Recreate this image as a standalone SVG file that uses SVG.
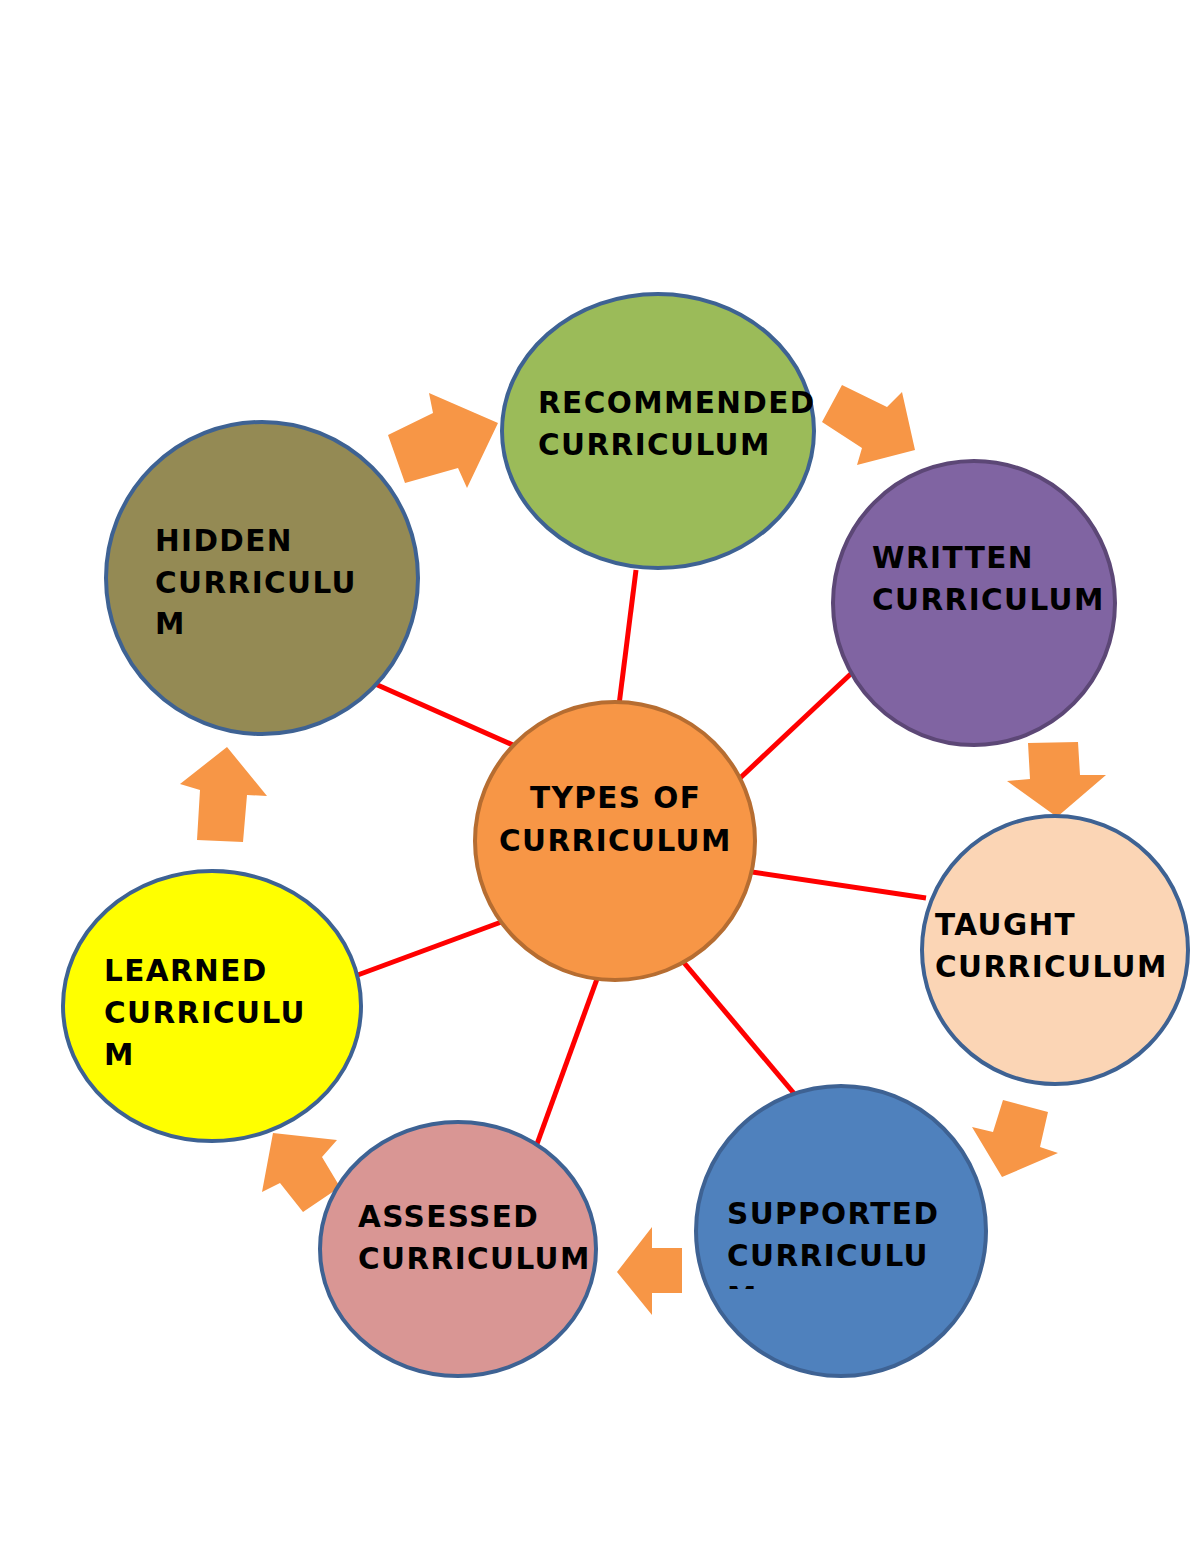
<svg xmlns="http://www.w3.org/2000/svg" width="1200" height="1553" viewBox="0 0 1200 1553">
<style>
.n{stroke-width:4}
.b{stroke:#3E6293}
.t{font-family:"DejaVu Sans",Verdana,sans-serif;font-weight:bold;font-size:29.5px;letter-spacing:1.4px;fill:#000}
.c line{stroke:#FF0000;stroke-width:5}
.a{fill:#F79646}
</style>
<defs>
<clipPath id="supclip"><rect x="690" y="1080" width="300" height="209"/></clipPath>
</defs>
<rect width="1200" height="1553" fill="#fff"/>
<g id="connectors" class="c">
<line x1="636" y1="570" x2="619" y2="705"/>
<line x1="856" y1="669" x2="738" y2="780"/>
<line x1="752" y1="872" x2="926" y2="898"/>
<line x1="680" y1="958" x2="797" y2="1097"/>
<line x1="597" y1="979" x2="537" y2="1144"/>
<line x1="504" y1="921" x2="355" y2="976"/>
<line x1="513" y1="745" x2="373" y2="683"/>
</g>
<g id="arrows">
<polygon class="a" points="388,435 433,413 429,393 498,423 467,488 458,468 405,483"/>
<polygon class="a" points="842,385 887,407 902,392 915,450 857,465 862,448 822,422"/>
<polygon class="a" points="1028,743 1078,742 1080,775 1106,775 1057,817 1007,781 1030,779"/>
<polygon class="a" points="1003,1100 1048,1112 1040,1147 1058,1153 1002,1177 972,1127 993,1132"/>
<polygon class="a" points="682,1248 682,1293 652,1293 652,1315 617,1272 652,1227 652,1248"/>
<polygon class="a" points="273,1133 337,1140 322,1157 340,1187 303,1212 280,1183 262,1192"/>
<polygon class="a" points="227,747 267,796 247,795 243,842 197,840 200,790 180,784"/>
</g>
<g id="recommended">
<ellipse class="n b" cx="658" cy="431" rx="156" ry="137" fill="#9BBB59"/>
<text class="t" x="538" y="413">RECOMMENDED</text>
<text class="t" x="538" y="455">CURRICULUM</text>
</g>
<g id="written">
<ellipse class="n" cx="974" cy="603" rx="141" ry="142" fill="#8064A2" stroke="#5C4776"/>
<text class="t" x="872" y="568">WRITTEN</text>
<text class="t" x="872" y="610">CURRICULUM</text>
</g>
<g id="taught">
<ellipse class="n b" cx="1055" cy="950" rx="133" ry="134" fill="#FBD5B5"/>
<text class="t" x="935" y="935">TAUGHT</text>
<text class="t" x="935" y="977">CURRICULUM</text>
</g>
<g id="supported">
<ellipse class="n b" cx="841" cy="1231" rx="145" ry="145" fill="#4F81BD"/>
<text class="t" x="727" y="1224">SUPPORTED</text>
<text class="t" x="727" y="1266">CURRICULU</text>
<text class="t" x="727" y="1308" clip-path="url(#supclip)">M</text>
</g>
<g id="assessed">
<ellipse class="n b" cx="458" cy="1249" rx="138" ry="127" fill="#D99694"/>
<text class="t" x="358" y="1227">ASSESSED</text>
<text class="t" x="358" y="1269">CURRICULUM</text>
</g>
<g id="learned">
<ellipse class="n b" cx="212" cy="1006" rx="149" ry="135" fill="#FFFF00"/>
<text class="t" x="104" y="981">LEARNED</text>
<text class="t" x="104" y="1023">CURRICULU</text>
<text class="t" x="104" y="1065">M</text>
</g>
<g id="hidden">
<ellipse class="n b" cx="262" cy="578" rx="156" ry="156" fill="#948A54"/>
<text class="t" x="155" y="551">HIDDEN</text>
<text class="t" x="155" y="593">CURRICULU</text>
<text class="t" x="155" y="634">M</text>
</g>
<g id="types">
<ellipse class="n" cx="615" cy="841" rx="140" ry="139" fill="#F79646" stroke="#B66D31"/>
<text class="t" x="530" y="808">TYPES OF</text>
<text class="t" x="499" y="851">CURRICULUM</text>
</g>
</svg>
